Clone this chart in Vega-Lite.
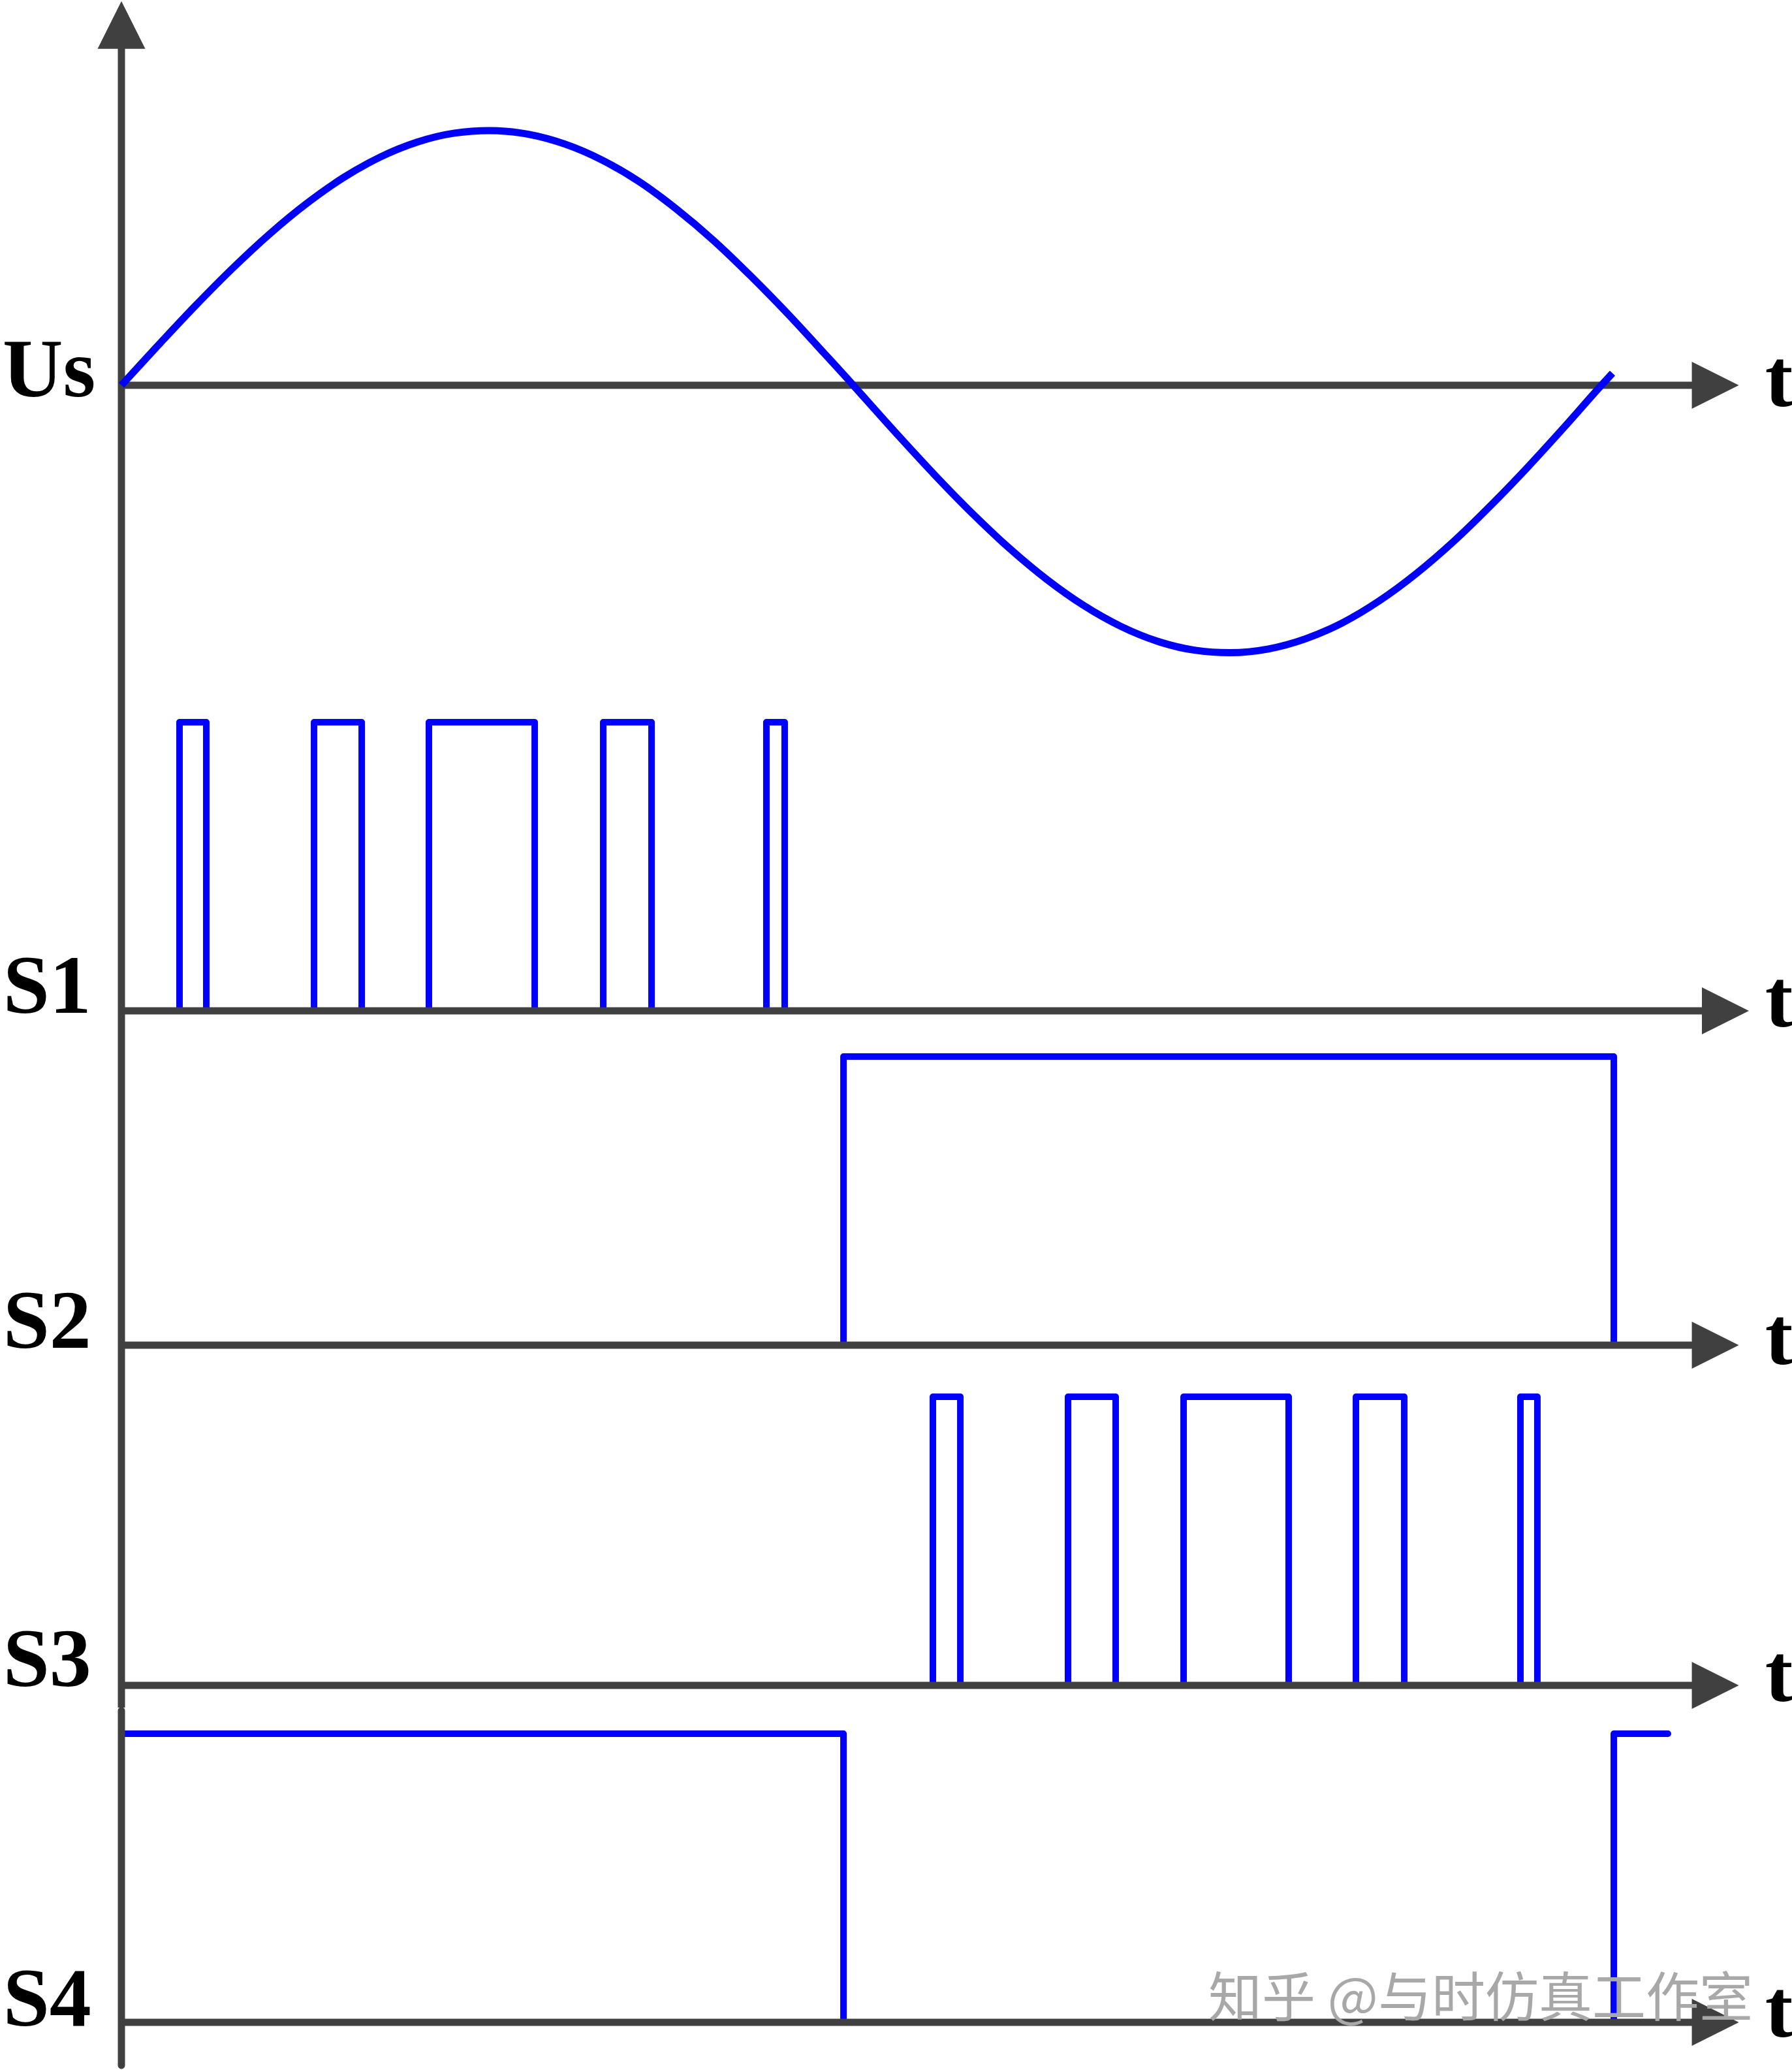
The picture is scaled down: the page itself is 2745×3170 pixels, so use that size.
{
  "$schema": "https://vega.github.io/schema/vega-lite/v6.json",
  "padding": 0,
  "spacing": 0,
  "bounds": "flush",
  "background": "white",
  "config": {"view": {"stroke": null}, "axis": {"disable": true}},
  "resolve": {"scale": {"x": "independent", "y": "independent"}},
  "datasets": {
    "us": [
      {"t": 0, "v": 0}, {"t": 0.5, "v": 0.1581}, {"t": 1, "v": 0.3124}, {"t": 1.5, "v": 0.4587},
      {"t": 2, "v": 0.5935}, {"t": 2.5, "v": 0.7133}, {"t": 3, "v": 0.8153}, {"t": 3.5, "v": 0.8965},
      {"t": 4, "v": 0.9551}, {"t": 4.5, "v": 0.9899}, {"t": 4.97, "v": 1.0}, {"t": 5.5, "v": 0.9855},
      {"t": 6, "v": 0.9463}, {"t": 6.5, "v": 0.8837}, {"t": 7, "v": 0.799}, {"t": 7.5, "v": 0.692},
      {"t": 8, "v": 0.5691}, {"t": 8.5, "v": 0.4303}, {"t": 9, "v": 0.2819}, {"t": 9.5, "v": 0.1246},
      {"t": 9.89, "v": 0}, {"t": 10, "v": -0.0359}, {"t": 10.5, "v": -0.1979}, {"t": 11, "v": -0.355},
      {"t": 11.5, "v": -0.5037}, {"t": 12, "v": -0.6402}, {"t": 12.5, "v": -0.7613}, {"t": 13, "v": -0.864},
      {"t": 13.5, "v": -0.9459}, {"t": 14, "v": -1.0052}, {"t": 14.5, "v": -1.04}, {"t": 14.98, "v": -1.05},
      {"t": 15.5, "v": -1.0355}, {"t": 16, "v": -0.996}, {"t": 16.5, "v": -0.9329}, {"t": 17, "v": -0.8463},
      {"t": 17.5, "v": -0.7391}, {"t": 18, "v": -0.6142}, {"t": 18.5, "v": -0.4735}, {"t": 19, "v": -0.3229},
      {"t": 19.5, "v": -0.1638}, {"t": 20, "v": 0}, {"t": 20.15, "v": 0.0476}
    ],
    "s": [
      {"sig": "S1", "t": 0, "v": 0}, {"sig": "S1", "t": 0.785, "v": 1}, {"sig": "S1", "t": 1.147, "v": 0},
      {"sig": "S1", "t": 2.603, "v": 1}, {"sig": "S1", "t": 3.247, "v": 0}, {"sig": "S1", "t": 4.155, "v": 1},
      {"sig": "S1", "t": 5.585, "v": 0}, {"sig": "S1", "t": 6.511, "v": 1}, {"sig": "S1", "t": 7.164, "v": 0},
      {"sig": "S1", "t": 8.716, "v": 1}, {"sig": "S1", "t": 8.963, "v": 0}, {"sig": "S1", "t": 9.758, "v": 0},
      {"sig": "S2", "t": 0, "v": 0}, {"sig": "S2", "t": 9.758, "v": 1}, {"sig": "S2", "t": 20.168, "v": 0},
      {"sig": "S3", "t": 9.758, "v": 0}, {"sig": "S3", "t": 10.966, "v": 1}, {"sig": "S3", "t": 11.337, "v": 0},
      {"sig": "S3", "t": 12.792, "v": 1}, {"sig": "S3", "t": 13.436, "v": 0}, {"sig": "S3", "t": 14.354, "v": 1},
      {"sig": "S3", "t": 15.774, "v": 0}, {"sig": "S3", "t": 16.683, "v": 1}, {"sig": "S3", "t": 17.336, "v": 0},
      {"sig": "S3", "t": 18.906, "v": 1}, {"sig": "S3", "t": 19.135, "v": 0}, {"sig": "S3", "t": 20.168, "v": 0},
      {"sig": "S4", "t": 0, "v": 1}, {"sig": "S4", "t": 9.758, "v": 0}, {"sig": "S4", "t": 20.168, "v": 1},
      {"sig": "S4", "t": 20.9, "v": 1}
    ]
  },
  "vconcat": [
    {
      "width": 2745, "height": 1070,
      "layer": [
        {"data": {"values": [{}]}, "mark": {"type": "rule", "color": "#404040", "strokeWidth": 11},
         "encoding": {"x": {"datum": 0, "scale": {"domain": [-1.641, 22.576], "nice": false, "zero": false}}, "x2": {"datum": 21.4}, "y": {"datum": 0, "scale": {"domain": [-1.2308, 1.5128], "nice": false, "zero": false}}}},
        {"data": {"values": [{}]}, "mark": {"type": "rule", "color": "#404040", "strokeWidth": 11},
         "encoding": {"x": {"datum": 0}, "y": {"datum": 1.359}, "y2": {"datum": -1.2308}}},
        {"data": {"values": [{}]}, "mark": {"type": "point", "shape": "M-1,1L0,-1L1,1Z", "size": 5329, "filled": true, "color": "#404040", "opacity": 1, "strokeWidth": 0},
         "encoding": {"x": {"datum": 0}, "y": {"datum": 1.415}}},
        {"data": {"values": [{}]}, "mark": {"type": "point", "shape": "M-1,-1L1,0L-1,1Z", "size": 5184, "filled": true, "color": "#404040", "opacity": 1, "strokeWidth": 0},
         "encoding": {"x": {"datum": 21.54}, "y": {"datum": 0}}},
        {"data": {"name": "us"},
         "mark": {"type": "line", "interpolate": "monotone", "color": "#0000ff", "strokeWidth": 11},
         "encoding": {"x": {"field": "t", "type": "quantitative", "axis": null}, "y": {"field": "v", "type": "quantitative", "axis": null}}},
        {"data": {"values": [{}]}, "mark": {"type": "text", "text": "Us", "font": "Liberation Serif", "fontWeight": "bold", "fontSize": 128, "align": "left", "baseline": "alphabetic", "color": "#000000"},
         "encoding": {"x": {"datum": -1.606}, "y": {"datum": -0.0436}}},
        {"data": {"values": [{}]}, "mark": {"type": "text", "text": "t", "font": "Liberation Serif", "fontWeight": "bold", "fontSize": 128, "align": "center", "baseline": "alphabetic", "color": "#000000"},
         "encoding": {"x": {"datum": 22.4}, "y": {"datum": -0.082}}}
      ]
    },
    {
      "width": 2745, "height": 510,
      "layer": [
        {"data": {"name": "s"}, "transform": [{"filter": "datum.sig === 'S1'"}],
         "mark": {"type": "line", "interpolate": "step-after", "color": "#0000ff", "strokeWidth": 10, "strokeJoin": "round", "strokeCap": "round"},
         "encoding": {"x": {"field": "t", "type": "quantitative", "scale": {"domain": [-1.641, 22.576], "nice": false, "zero": false}, "axis": null},
                      "y": {"field": "v", "type": "quantitative", "scale": {"domain": [-0.0724, 1.0814], "nice": false, "zero": false}, "axis": null}}},
        {"data": {"values": [{}]}, "mark": {"type": "rule", "color": "#404040", "strokeWidth": 11},
         "encoding": {"x": {"datum": 0}, "x2": {"datum": 21.5}, "y": {"datum": 0}}},
        {"data": {"values": [{}]}, "mark": {"type": "rule", "color": "#404040", "strokeWidth": 11},
         "encoding": {"x": {"datum": 0}}},
        {"data": {"values": [{}]}, "mark": {"type": "point", "shape": "M-1,-1L1,0L-1,1Z", "size": 5184, "filled": true, "color": "#404040", "opacity": 1, "strokeWidth": 0},
         "encoding": {"x": {"datum": 21.676}, "y": {"datum": 0}}},
        {"data": {"values": [{}]}, "mark": {"type": "text", "text": "S1", "font": "Liberation Serif", "fontWeight": "bold", "fontSize": 128, "align": "left", "baseline": "alphabetic", "color": "#000000"},
         "encoding": {"x": {"datum": -1.6}, "y": {"datum": -0.007}}},
        {"data": {"values": [{}]}, "mark": {"type": "text", "text": "t", "font": "Liberation Serif", "fontWeight": "bold", "fontSize": 128, "align": "center", "baseline": "alphabetic", "color": "#000000"},
         "encoding": {"x": {"datum": 22.4}, "y": {"datum": -0.055}}}
      ]
    },
    {
      "width": 2745, "height": 520,
      "layer": [
        {"data": {"name": "s"}, "transform": [{"filter": "datum.sig === 'S2'"}],
         "mark": {"type": "line", "interpolate": "step-after", "color": "#0000ff", "strokeWidth": 10, "strokeJoin": "round", "strokeCap": "round"},
         "encoding": {"x": {"field": "t", "type": "quantitative", "scale": {"domain": [-1.641, 22.576], "nice": false, "zero": false}, "axis": null},
                      "y": {"field": "v", "type": "quantitative", "scale": {"domain": [-0.0905, 1.086], "nice": false, "zero": false}, "axis": null}}},
        {"data": {"values": [{}]}, "mark": {"type": "rule", "color": "#404040", "strokeWidth": 11},
         "encoding": {"x": {"datum": 0}, "x2": {"datum": 21.4}, "y": {"datum": 0}}},
        {"data": {"values": [{}]}, "mark": {"type": "rule", "color": "#404040", "strokeWidth": 11},
         "encoding": {"x": {"datum": 0}}},
        {"data": {"values": [{}]}, "mark": {"type": "point", "shape": "M-1,-1L1,0L-1,1Z", "size": 5184, "filled": true, "color": "#404040", "opacity": 1, "strokeWidth": 0},
         "encoding": {"x": {"datum": 21.54}, "y": {"datum": 0}}},
        {"data": {"values": [{}]}, "mark": {"type": "text", "text": "S2", "font": "Liberation Serif", "fontWeight": "bold", "fontSize": 128, "align": "left", "baseline": "alphabetic", "color": "#000000"},
         "encoding": {"x": {"datum": -1.6}, "y": {"datum": -0.01}}},
        {"data": {"values": [{}]}, "mark": {"type": "text", "text": "t", "font": "Liberation Serif", "fontWeight": "bold", "fontSize": 128, "align": "center", "baseline": "alphabetic", "color": "#000000"},
         "encoding": {"x": {"datum": 22.4}, "y": {"datum": -0.065}}}
      ]
    },
    {
      "width": 2745, "height": 515,
      "layer": [
        {"data": {"name": "s"}, "transform": [{"filter": "datum.sig === 'S3'"}],
         "mark": {"type": "line", "interpolate": "step-after", "color": "#0000ff", "strokeWidth": 10, "strokeJoin": "round", "strokeCap": "round"},
         "encoding": {"x": {"field": "t", "type": "quantitative", "scale": {"domain": [-1.641, 22.576], "nice": false, "zero": false}, "axis": null},
                      "y": {"field": "v", "type": "quantitative", "scale": {"domain": [-0.0769, 1.0882], "nice": false, "zero": false}, "axis": null}}},
        {"data": {"values": [{}]}, "mark": {"type": "rule", "color": "#404040", "strokeWidth": 11},
         "encoding": {"x": {"datum": 0}, "x2": {"datum": 21.4}, "y": {"datum": 0}}},
        {"data": {"values": [{}]}, "mark": {"type": "rule", "color": "#404040", "strokeWidth": 11},
         "encoding": {"x": {"datum": 0}}},
        {"data": {"values": [{}]}, "mark": {"type": "point", "shape": "M-1,-1L1,0L-1,1Z", "size": 5184, "filled": true, "color": "#404040", "opacity": 1, "strokeWidth": 0},
         "encoding": {"x": {"datum": 21.54}, "y": {"datum": 0}}},
        {"data": {"values": [{}]}, "mark": {"type": "text", "text": "S3", "font": "Liberation Serif", "fontWeight": "bold", "fontSize": 128, "align": "left", "baseline": "alphabetic", "color": "#000000"},
         "encoding": {"x": {"datum": -1.6}, "y": {"datum": -0.003}}},
        {"data": {"values": [{}]}, "mark": {"type": "text", "text": "t", "font": "Liberation Serif", "fontWeight": "bold", "fontSize": 128, "align": "center", "baseline": "alphabetic", "color": "#000000"},
         "encoding": {"x": {"datum": 22.4}, "y": {"datum": -0.055}}}
      ]
    },
    {
      "width": 2745, "height": 555,
      "layer": [
        {"data": {"name": "s"}, "transform": [{"filter": "datum.sig === 'S4'"}],
         "mark": {"type": "line", "interpolate": "step-after", "color": "#0000ff", "strokeWidth": 10, "strokeJoin": "round", "strokeCap": "round"},
         "encoding": {"x": {"field": "t", "type": "quantitative", "scale": {"domain": [-1.641, 22.576], "nice": false, "zero": false}, "axis": null},
                      "y": {"field": "v", "type": "quantitative", "scale": {"domain": [-0.1652, 1.0905], "nice": false, "zero": false}, "axis": null}}},
        {"data": {"values": [{}]}, "mark": {"type": "rule", "color": "#404040", "strokeWidth": 11},
         "encoding": {"x": {"datum": 0}, "x2": {"datum": 21.4}, "y": {"datum": 0}}},
        {"data": {"values": [{}]}, "mark": {"type": "rule", "color": "#404040", "strokeWidth": 11, "strokeCap": "round"},
         "encoding": {"x": {"datum": 0}, "y": {"datum": 1.08}, "y2": {"datum": -0.1493}}},
        {"data": {"values": [{}]}, "mark": {"type": "point", "shape": "M-1,-1L1,0L-1,1Z", "size": 5184, "filled": true, "color": "#404040", "opacity": 1, "strokeWidth": 0},
         "encoding": {"x": {"datum": 21.54}, "y": {"datum": 0}}},
        {"data": {"values": [{}]}, "mark": {"type": "text", "text": "S4", "font": "Liberation Serif", "fontWeight": "bold", "fontSize": 128, "align": "left", "baseline": "alphabetic", "color": "#000000"},
         "encoding": {"x": {"datum": -1.6}, "y": {"datum": -0.011}}},
        {"data": {"values": [{}]}, "mark": {"type": "text", "text": "t", "font": "Liberation Serif", "fontWeight": "bold", "fontSize": 128, "align": "center", "baseline": "alphabetic", "color": "#000000"},
         "encoding": {"x": {"datum": 22.4}, "y": {"datum": -0.05}}},
        {"data": {"values": [{}]}, "mark": {"type": "text", "text": "知乎 @与时仿真工作室", "font": "Noto Sans CJK SC", "fontSize": 82, "align": "left", "baseline": "alphabetic", "color": "#a8a8a8"},
         "encoding": {"x": {"datum": 14.69}, "y": {"datum": 0.02}}}
      ]
    }
  ]
}
